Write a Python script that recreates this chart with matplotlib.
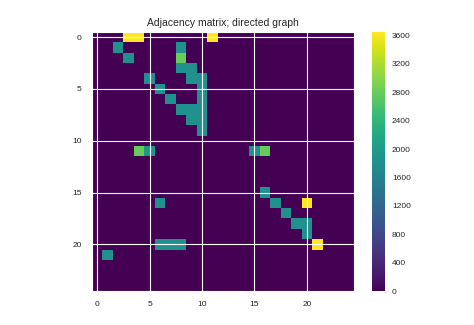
import numpy as np
import matplotlib
matplotlib.use("Agg")
import matplotlib.pyplot as plt
import seaborn as sns

n_nodes = 25

# edges of the directed graph: source row, target column, weight
sources = [0, 0, 0, 1, 1, 2, 2, 3, 3, 4, 4, 4, 5, 5, 6, 6, 7, 7, 7, 8, 8, 9,
           11, 11, 11, 11, 15, 16, 16, 16, 17, 18, 18, 19, 20, 20, 20, 20, 21]
targets = [3, 4, 11, 2, 8, 3, 8, 8, 9, 5, 9, 10, 6, 10, 7, 10, 8, 9, 10, 9, 10, 10,
           4, 5, 15, 16, 16, 6, 17, 20, 18, 19, 20, 20, 6, 7, 8, 21, 1]
weights = [3650, 3650, 3650, 1850, 1850, 1850, 2800, 1850, 1850, 1850, 1850, 1850,
           1850, 1850, 1850, 1850, 1850, 1850, 1850, 1850, 1850, 1850,
           2800, 1900, 1850, 2800, 1850, 1850, 1850, 3650, 1850, 1850, 1850, 1850,
           1850, 1850, 1850, 3650, 1850]

cbar_ticks = list(range(0, 3601, 400))


def main():
    """Shows the weighted adjacency matrix of a directed graph"""

    sns.set_style("darkgrid")
    plt.rcParams["font.family"] = ["Liberation Sans", "DejaVu Sans"]

    adj = np.zeros((n_nodes, n_nodes))
    adj[sources, targets] = weights

    fig = plt.figure(figsize=(4.74, 3.25), dpi=100)
    ax = fig.add_axes([92 / 474, 34 / 325, 262 / 474, 259 / 325])
    im = ax.imshow(adj, cmap="viridis", aspect="auto", interpolation="nearest")
    ax.set_xticks([0, 5, 10, 15, 20])
    ax.set_yticks([0, 5, 10, 15, 20])
    ax.tick_params(labelsize=6, colors=".15", pad=4)
    ax.set_title("Adjacency matrix; directed graph", fontsize=7.5, pad=4)

    cax = fig.add_axes([372 / 474, 34 / 325, 13 / 474, 259 / 325])
    cb = fig.colorbar(im, cax=cax, ticks=cbar_ticks)
    cb.outline.set_visible(False)
    cax.tick_params(labelsize=6, colors=".15", length=0, pad=5)

    fig.savefig("out.png", dpi=100)


if __name__ == "__main__":
    main()
